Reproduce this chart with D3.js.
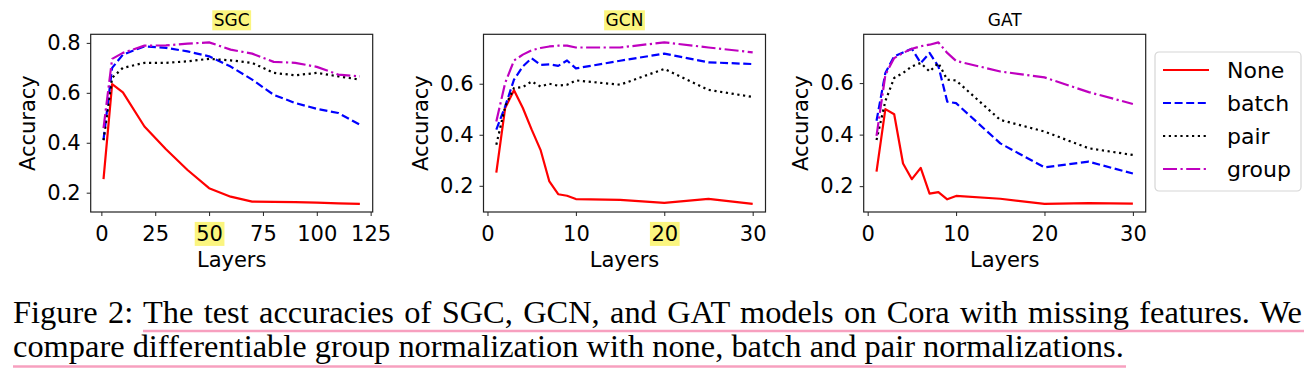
<!DOCTYPE html>
<html>
<head>
<meta charset="utf-8">
<script src="https://cdn.jsdelivr.net/npm/d3@7"></script>
<style>
  body { margin: 0; background: #fff; }
  svg { display: block; }
</style>
</head>
<body>
<svg id="chart" width="1312" height="382"></svg>
<script>
// --- data ---
const seriesNames = ['None', 'batch', 'pair', 'group'];

const sgcLayers = [1, 5, 10, 20, 30, 40, 50, 60, 70, 80, 90, 100, 110, 120];
const sgcNone  = [0.254, 0.635, 0.602, 0.465, 0.374, 0.291, 0.218, 0.184, 0.164, 0.163, 0.162, 0.160, 0.157, 0.155];
const sgcBatch = [0.412, 0.700, 0.753, 0.786, 0.780, 0.766, 0.746, 0.705, 0.653, 0.592, 0.559, 0.536, 0.519, 0.472];
const sgcPair  = [0.410, 0.660, 0.700, 0.720, 0.720, 0.726, 0.736, 0.730, 0.720, 0.680, 0.670, 0.680, 0.666, 0.653];
const sgcGroup = [0.459, 0.736, 0.760, 0.789, 0.790, 0.797, 0.802, 0.773, 0.757, 0.724, 0.720, 0.704, 0.673, 0.666];

const gcnLayers = [1, 2, 3, 4, 5, 6, 7, 8, 9, 10, 15, 20, 25, 30];
const gcnNone  = [0.252, 0.505, 0.574, 0.505, 0.420, 0.341, 0.217, 0.167, 0.161, 0.148, 0.145, 0.133, 0.149, 0.129];
const gcnBatch = [0.420, 0.511, 0.616, 0.668, 0.700, 0.674, 0.676, 0.670, 0.691, 0.660, 0.690, 0.718, 0.684, 0.677];
const gcnPair  = [0.361, 0.511, 0.583, 0.587, 0.609, 0.589, 0.600, 0.592, 0.596, 0.613, 0.596, 0.658, 0.576, 0.548];
const gcnGroup = [0.452, 0.603, 0.691, 0.714, 0.731, 0.740, 0.746, 0.749, 0.749, 0.742, 0.742, 0.762, 0.742, 0.723];

const gatLayers = [1, 2, 3, 4, 5, 6, 7, 8, 9, 10, 15, 20, 25, 30];
const gatNone  = [0.256, 0.499, 0.479, 0.288, 0.227, 0.271, 0.171, 0.177, 0.149, 0.162, 0.151, 0.131, 0.134, 0.132];
const gatBatch = [0.454, 0.639, 0.704, 0.719, 0.733, 0.678, 0.717, 0.665, 0.528, 0.522, 0.366, 0.273, 0.295, 0.249];
const gatPair  = [0.379, 0.530, 0.620, 0.639, 0.665, 0.678, 0.645, 0.678, 0.613, 0.610, 0.457, 0.412, 0.347, 0.321];
const gatGroup = [0.395, 0.632, 0.697, 0.717, 0.733, 0.743, 0.749, 0.758, 0.717, 0.686, 0.645, 0.622, 0.565, 0.519];

const sgcXTicks = [0, 25, 50, 75, 100, 125];
const gcnXTicks = [0, 10, 20, 30];
const gatXTicks = [0, 10, 20, 30];
const sgcYTicks = [0.2, 0.4, 0.6, 0.8];
const gcnYTicks = [0.2, 0.4, 0.6];
const gatYTicks = [0.2, 0.4, 0.6];

const captionLine1a = 'Figure 2: ';
const captionLine1b = 'The test accuracies of SGC, GCN, and GAT models on Cora with missing features. We';
const captionLine2 = 'compare differentiable group normalization with none, batch and pair normalizations.';

// --- styles ---
const styles = [
    { color: '#ff0000', dash: null },
    { color: '#0000ff', dash: '8,3.6' },
    { color: '#000000', dash: '2.2,3.6' },
    { color: '#bf00bf', dash: '14,3.5,2.2,3.5' }
];
const highlight = '#fbf57f';
const font = 'DejaVu Sans, sans-serif';

const panels = [
    { title: 'SGC', layers: sgcLayers, series: [sgcNone, sgcBatch, sgcPair, sgcGroup], xTicks: sgcXTicks, yTicks: sgcYTicks, left: 90.7, markTitle: true, markTick: 50 },
    { title: 'GCN', layers: gcnLayers, series: [gcnNone, gcnBatch, gcnPair, gcnGroup], xTicks: gcnXTicks, yTicks: gcnYTicks, left: 483.5, markTitle: true, markTick: 20 },
    { title: 'GAT', layers: gatLayers, series: [gatNone, gatBatch, gatPair, gatGroup], xTicks: gatXTicks, yTicks: gatYTicks, left: 863.7, markTitle: false, markTick: null }
];

const plotTop = 34.3, plotW = 282, plotH = 177.7;
const svg = d3.select('#chart');

function markBox(g, textNode, padX, padY) {
    const b = textNode.getBBox();
    g.insert('rect', () => textNode)
        .attr('x', b.x - padX).attr('y', b.y - padY)
        .attr('width', b.width + 2 * padX).attr('height', b.height + 2 * padY)
        .attr('fill', highlight);
}

panels.forEach(p => {
    const xExt = d3.extent(p.layers);
    const xPad = (xExt[1] - xExt[0]) * 0.05;
    const allV = p.series.flat();
    const yExt = d3.extent(allV);
    const yPad = (yExt[1] - yExt[0]) * 0.05;

    const x = d3.scaleLinear().domain([xExt[0] - xPad, xExt[1] + xPad]).range([0, plotW]);
    const y = d3.scaleLinear().domain([yExt[0] - yPad, yExt[1] + yPad]).range([plotH, 0]);

    const g = svg.append('g').attr('transform', `translate(${p.left},${plotTop})`);

    // lines
    const line = d3.line().x((d, i) => x(p.layers[i])).y(d => y(d));
    p.series.forEach((vals, k) => {
        g.append('path')
            .datum(vals)
            .attr('d', line)
            .attr('fill', 'none')
            .attr('stroke', styles[k].color)
            .attr('stroke-width', 2.2)
            .attr('stroke-dasharray', styles[k].dash)
            .attr('stroke-linejoin', 'round');
    });

    // axes
    const xAxis = g.append('g')
        .attr('transform', `translate(0,${plotH})`)
        .call(d3.axisBottom(x).tickValues(p.xTicks).tickFormat(d3.format('d')).tickSize(4).tickPadding(10));
    const yAxis = g.append('g')
        .call(d3.axisLeft(y).tickValues(p.yTicks).tickFormat(d3.format('.1f')).tickSize(4).tickPadding(6));
    [xAxis, yAxis].forEach(a => {
        a.select('.domain').remove();
        a.selectAll('line').attr('stroke', '#222').attr('stroke-width', 1);
        a.selectAll('text').attr('fill', '#000').style('font-family', font).style('font-size', '21px');
    });

    // frame
    g.append('rect')
        .attr('width', plotW).attr('height', plotH)
        .attr('fill', 'none').attr('stroke', '#222').attr('stroke-width', 1.2);

    if (p.markTick !== null) {
        xAxis.selectAll('.tick').filter(d => d === p.markTick).each(function () {
            const t = d3.select(this).select('text').node();
            markBox(d3.select(this), t, 1.5, 0);
        });
    }

    // title
    const title = g.append('text')
        .attr('x', plotW / 2).attr('y', -8)
        .attr('text-anchor', 'middle')
        .style('font-family', font).style('font-size', '17px')
        .text(p.title);
    if (p.markTitle) markBox(g, title.node(), 1.5, 0);

    // axis labels
    g.append('text')
        .attr('x', plotW / 2).attr('y', 267 - plotTop)
        .attr('text-anchor', 'middle')
        .style('font-family', font).style('font-size', '21px')
        .text('Layers');
    g.append('text')
        .attr('transform', `translate(-56,${plotH / 2}) rotate(-90)`)
        .attr('text-anchor', 'middle')
        .style('font-family', font).style('font-size', '21px')
        .text('Accuracy');
});

// legend
const legend = svg.append('g').attr('transform', 'translate(1155,52)');
legend.append('rect')
    .attr('width', 146).attr('height', 139).attr('rx', 4)
    .attr('fill', '#fff').attr('stroke', '#d6d6d6').attr('stroke-width', 1.2);
seriesNames.forEach((name, k) => {
    const row = legend.append('g').attr('transform', `translate(0,${18 + k * 33})`);
    row.append('line')
        .attr('x1', 8).attr('x2', 54)
        .attr('stroke', styles[k].color).attr('stroke-width', 2.2)
        .attr('stroke-dasharray', styles[k].dash);
    row.append('text')
        .attr('x', 72).attr('dy', '0.35em')
        .style('font-family', font).style('font-size', '22px')
        .text(name);
});

// caption
const capFont = 'Liberation Serif, Times New Roman, serif';
const capLeft = 13, capRight = 1302, line2Right = 1124;
const l2 = svg.append('text')
    .attr('x', capLeft).attr('y', 357)
    .style('font-family', capFont).style('font-size', '27px')
    .text(captionLine2);
const capSize = 27 * (line2Right - capLeft) / l2.node().getComputedTextLength();
l2.style('font-size', capSize + 'px');

const l1 = svg.append('text')
    .attr('x', capLeft).attr('y', 323)
    .style('font-family', capFont).style('font-size', capSize + 'px');
l1.append('tspan').text(captionLine1a);
l1.append('tspan').text(captionLine1b);
const full1 = captionLine1a + captionLine1b;
const natural = l1.node().getComputedTextLength();
const spaces = (full1.trim().match(/ /g) || []).length;
l1.style('word-spacing', ((capRight - capLeft - natural) / spaces) + 'px');
const ulStart = l1.node().getStartPositionOfChar(captionLine1a.length).x;

svg.append('line')
    .attr('x1', ulStart).attr('x2', capRight + 2)
    .attr('y1', 331).attr('y2', 331)
    .attr('stroke', '#f7a0bf').attr('stroke-width', 2.6);
svg.append('line')
    .attr('x1', capLeft).attr('x2', line2Right + 2)
    .attr('y1', 366.5).attr('y2', 366.5)
    .attr('stroke', '#f7a0bf').attr('stroke-width', 2.6);
</script>
</body>
</html>
